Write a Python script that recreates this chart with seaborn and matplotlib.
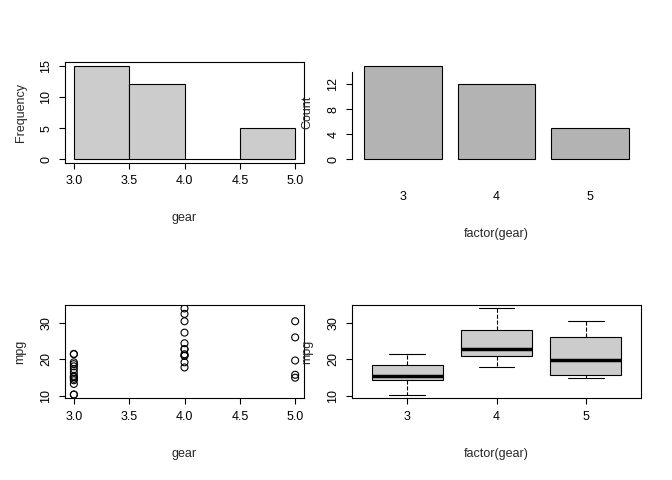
import matplotlib
matplotlib.use("Agg")
import matplotlib.pyplot as plt
import seaborn as sns
import pandas as pd
import numpy as np

gear_levels = [3, 4, 5]
mpg_g3 = [21.4, 18.7, 18.1, 14.3, 16.4, 17.3, 15.2, 10.4, 10.4, 14.7, 21.5, 15.5, 15.2, 13.3, 19.2]
mpg_g4 = [21.0, 21.0, 22.8, 24.4, 22.8, 19.2, 17.8, 32.4, 30.4, 33.9, 27.3, 21.4]
mpg_g5 = [26.0, 30.4, 15.8, 19.7, 15.0]
hist_breaks = [3.0, 3.5, 4.0, 4.5, 5.0]

df = pd.DataFrame({
    "gear": [3]*len(mpg_g3) + [4]*len(mpg_g4) + [5]*len(mpg_g5),
    "mpg": mpg_g3 + mpg_g4 + mpg_g5,
})
df["fgear"] = df["gear"].astype(str)

# R-style right-closed histogram counts
cuts = pd.cut(df["gear"], bins=hist_breaks, right=True, include_lowest=True)
hist_counts = cuts.value_counts(sort=False).values
hist_mids = [(a + b) / 2 for a, b in zip(hist_breaks[:-1], hist_breaks[1:])]

sns.set_style("white")
plt.rcParams["font.family"] = ["Liberation Sans", "DejaVu Sans"]
plt.rcParams["font.size"] = 9

fig = plt.figure(figsize=(6.72, 4.8), dpi=100)
W, H = 672, 480
def ax_at(l, r, t, b):
    return fig.add_axes([l/W, 1-b/H, (r-l)/W, (b-t)/H])

def style(ax, box=True):
    for s in ax.spines.values():
        s.set_visible(box); s.set_color("black"); s.set_linewidth(0.8)
    ax.tick_params(direction="out", length=4, width=0.8, colors="black", labelsize=9,
                   bottom=True, left=True, pad=5)
    for lab in ax.get_yticklabels():
        lab.set_rotation(90); lab.set_va("center")

# Histogram
ax1 = ax_at(65, 304, 62, 163)
sns.histplot(x=hist_mids, weights=hist_counts, bins=hist_breaks, color="#cccccc",
             edgecolor="black", linewidth=0.8, alpha=1, ax=ax1)
ax1.set_xlim(2.92, 5.08); ax1.set_ylim(-0.6, 15.6)
ax1.set_xticks([3.0, 3.5, 4.0, 4.5, 5.0]); ax1.set_yticks([0, 5, 10, 15])
ax1.set_xlabel("gear", labelpad=18); ax1.set_ylabel("Frequency", labelpad=10)
style(ax1)

# Barplot
ax2 = ax_at(352, 641, 62, 163)
sns.countplot(data=df, x="fgear", order=["3", "4", "5"], color="#b3b3b3",
              edgecolor="black", linewidth=0.8, width=0.833, saturation=1, ax=ax2)
ax2.set_xlim(-0.55, 2.55); ax2.set_ylim(-0.6, 15.6)
ax2.set_yticks([0, 4, 8, 12])
ax2.set_xlabel("factor(gear)", labelpad=18); ax2.set_ylabel("Count", labelpad=10)
style(ax2, box=False)
ax2.spines["left"].set_visible(True); ax2.spines["left"].set_bounds(0, 14)
ax2.tick_params(axis="x", length=0, pad=20)

# Scatter
ax3 = ax_at(65, 304, 305, 398)
sns.scatterplot(data=df, x="gear", y="mpg", facecolor="none", edgecolor="black",
                linewidth=0.8, s=25, ax=ax3)
ax3.set_xlim(2.92, 5.08); ax3.set_ylim(9.46, 34.84)
ax3.set_xticks([3.0, 3.5, 4.0, 4.5, 5.0]); ax3.set_yticks([10, 20, 30])
ax3.set_xlabel("gear", labelpad=18); ax3.set_ylabel("mpg", labelpad=10)
style(ax3)

# Boxplot
ax4 = ax_at(352, 641, 305, 398)
sns.boxplot(data=df, x="fgear", y="mpg", order=["3", "4", "5"], color="#cccccc",
            width=0.8, saturation=1, linecolor="black", linewidth=0.8,
            medianprops=dict(linewidth=2.5, color="black"),
            whiskerprops=dict(linestyle="--"), ax=ax4)
ax4.set_xlim(-0.62, 2.62); ax4.set_ylim(9.46, 34.84)
ax4.set_yticks([10, 20, 30])
ax4.set_xlabel("factor(gear)", labelpad=18); ax4.set_ylabel("mpg", labelpad=10)
style(ax4)

fig.savefig("out.png", dpi=100)
